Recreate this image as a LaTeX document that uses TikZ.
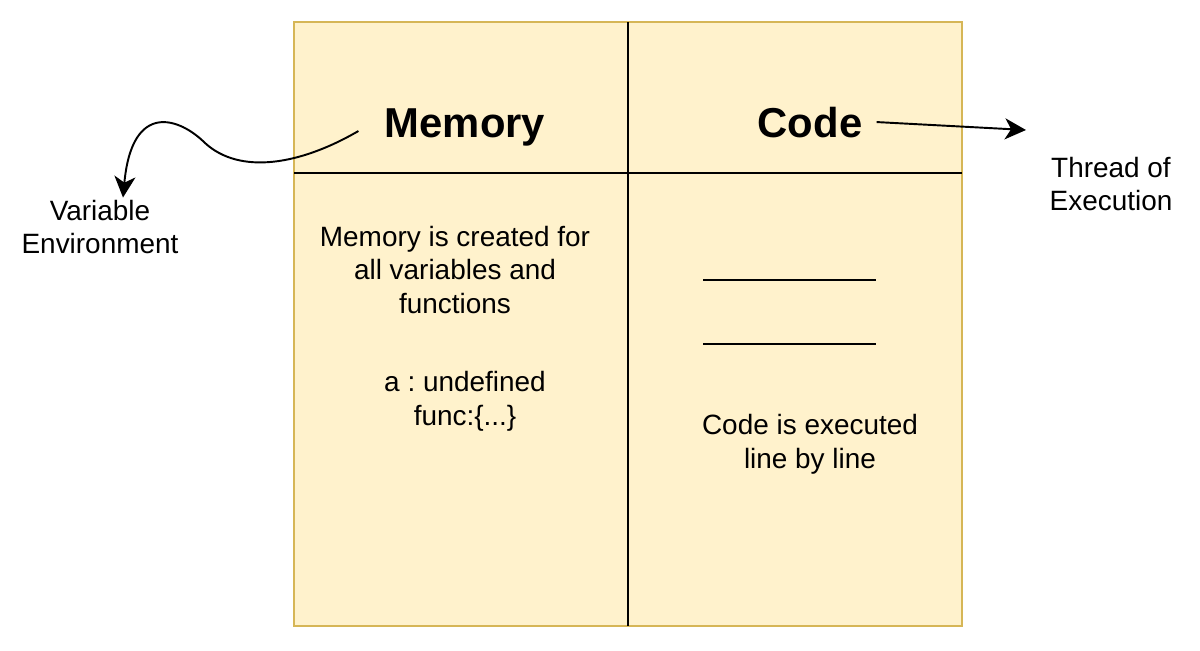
\documentclass[tikz,border=0pt]{standalone}
\usepackage{fontspec}
\setmainfont{Liberation Sans}
\usepackage{xcolor}
\usetikzlibrary{arrows.meta}
\usetikzlibrary{calc}
\definecolor{noteFill}{HTML}{FFF2CC}
\definecolor{noteLine}{HTML}{D6B656}
\tikzstyle{panel}=[fill=noteFill, draw=noteLine, line width=1.1pt]
\tikzstyle{divider}=[draw=black, line width=1.1pt]
\tikzstyle{heading}=[font=\fontsize{23.8}{28}\selectfont\bfseries, anchor=base, inner sep=8pt]
\tikzstyle{txt}=[font=\fontsize{15.9}{19.2}\selectfont\frenchspacing, align=center, inner sep=0pt]
\tikzstyle{pointer}=[line width=1.1pt, -{Stealth[length=12pt,width=12pt,inset=3.5pt]}]

\begin{document}
\begin{tikzpicture}[x=0.02cm, y=-0.02cm]
	\useasboundingbox (0,0) rectangle (1200,650);
	\filldraw[panel] (294,22) rectangle (962,626);
	\draw[divider] (628,22) -- (628,626);
	\draw[divider] (294,173) -- (962,173);
	\node[heading] (memhead) at (465,137) {Memory};
	\node[heading] (codehead) at (810,137) {Code};
	\node[txt] (memnote) at (455,270) {Memory is created for\\all variables and\\functions};
	\node[txt] (memvars) at (465,401) {a : undefined\\func:\{...\}};
	\draw[divider] (703,280) -- (876,280);
	\draw[divider] (703,344) -- (876,344);
	\node[txt] (codenote) at (810,444) {Code is executed\\line by line};
	\node[txt] (varenv) at (100,227) {Variable\\Environment};
	\node[txt] (thread) at (1111,184) {Thread of\\Execution};
	\coordinate (threadtip) at (1026,130);
	\draw[pointer] ($(memhead.base west)+(-12,-6)$) .. controls (300,165) and (240,175) .. (205,143)
		.. controls (180,118) and (132,100) .. ($(varenv.north)+(23,-2)$);
	\draw[pointer] (codehead.east) -- (threadtip);
\end{tikzpicture}
\end{document}
